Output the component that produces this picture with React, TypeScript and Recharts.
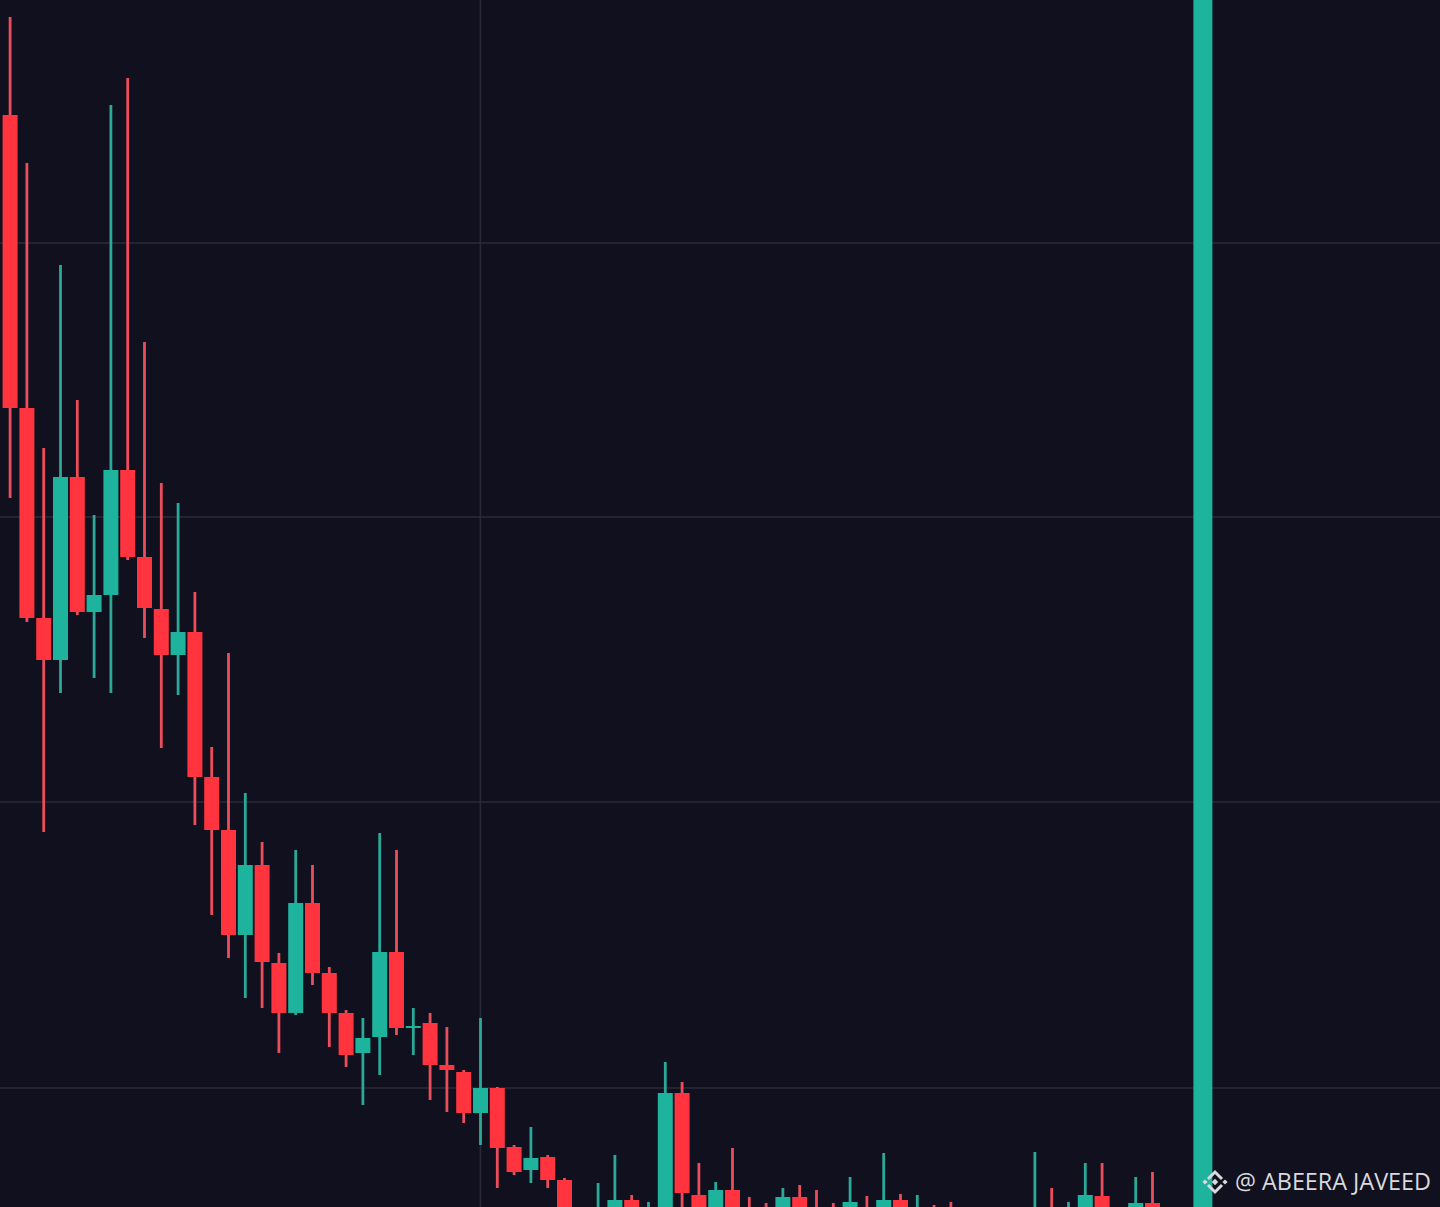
import { ComposedChart, Bar, XAxis, YAxis, ReferenceLine } from 'recharts'

// OHLC candles, oldest first
const OPEN = [
  118.5, 89.2, 68.2, 64, 82.3, 68.8, 70.5, 83, 74.3, 69.1,
  64.5, 66.8, 52.3, 47, 36.5, 43.5, 33.7, 28.7, 39.7, 32.7,
  28.7, 24.7, 26.3, 34.8, 27.2, 27.7, 23.5, 22.8, 18.7, 21.2,
  15.3, 13, 14.3, 12, 6.5, 6, 7, 10, 7, 7,
  20.7, 10.5, 7.5, 11, 9, 8.5, 7, 10.3, 9, 9,
  7, 9, 7, 10, 7, 9, 9, 8, 6, 8,
  6, 7, 9, 7, 7, 10.4, 8.2, 7, 9.7, 6.5,
  8.2, 0,
]
const HIGH = [
  128.3, 113.7, 85.2, 103.5, 90, 78.5, 119.5, 122.2, 95.8, 81.7,
  79.7, 70.8, 55.3, 64.7, 50.7, 45.8, 34.7, 45, 43.5, 33.3,
  29, 28.2, 46.7, 45, 29.2, 28.7, 27.3, 23, 28.2, 21.3,
  15.5, 17.3, 14.5, 12.2, 8, 11.7, 14.5, 10.5, 9.8, 23.8,
  21.8, 13.7, 11.8, 15.2, 10.3, 9.7, 11.2, 11.5, 11, 9.7,
  12.3, 10.4, 14.7, 10.6, 10.5, 9.5, 9.8, 8.8, 8.5, 8.6,
  8.9, 14.8, 11.2, 9.8, 13.7, 13.7, 8.8, 12.3, 12.8, 8.8,
  8.6, 145,
]
const LOW = [
  80.2, 67.8, 46.8, 60.7, 68.5, 62.2, 60.7, 74, 66.2, 55.2,
  60.5, 47.5, 38.5, 34.2, 30.2, 29.2, 24.7, 28.5, 31.5, 25.3,
  23.3, 19.5, 22.5, 26.5, 24.5, 20, 18.8, 17.7, 15.5, 11.2,
  12.5, 11.7, 11.2, 5, 2, 4, 5, 5, 5, 5,
  8, 5, 5, 5, 5, 5, 5, 5, 5, 5,
  5, 5, 5, 5, 5, 5, 5, 5, 5, 5,
  5, 5, 5, 5, 5, 5, 5, 5, 5, 5,
  5, -5,
]
const CLOSE = [
  89.2, 68.2, 64, 82.3, 68.8, 70.5, 83, 74.3, 69.2, 64.5,
  66.8, 52.3, 47, 36.5, 43.5, 33.8, 28.7, 39.7, 32.7, 28.7,
  24.5, 26.2, 34.8, 27.2, 27.4, 23.5, 23, 18.7, 21.2, 15.2,
  12.8, 14.2, 12, 7, 4, 8.8, 10, 7, 9.2, 20.7,
  10.7, 7, 11, 7.5, 7, 6.5, 10.3, 7, 7, 7,
  9.8, 7, 10, 7, 9, 7, 7, 6, 8, 6.5,
  8.2, 9, 7, 9.2, 10.5, 7, 6.5, 9.7, 7, 8.3,
  6, 140,
]

const PRICE_GRID = [21.2, 49.8, 78.3, 105.7]
const TIME_GRID = [28, 71]
const SPIKE = 71

const UP = '#1db39c'
const UP_WICK = '#2aa898'
const DOWN = '#ff343f'
const DOWN_WICK = '#ec4d5b'
const BG = '#11101e'
const GRID = '#2b2a3a'

const candles = OPEN.map((open, i) => ({
  t: i,
  open,
  high: HIGH[i],
  low: LOW[i],
  close: CLOSE[i],
}))

type CandleProps = {
  x?: number
  y?: number
  width?: number
  height?: number
  payload?: { t: number; open: number; high: number; low: number; close: number }
}

function Candle({ x = 0, y = 0, width = 0, height = 0, payload }: CandleProps) {
  if (!payload) return null
  const { open, close, high, low } = payload
  const up = close >= open
  const ratio = high > low ? height / (high - low) : 0
  const cx = x + width / 2
  const top = y + (high - Math.max(open, close)) * ratio
  const bottom = y + (high - Math.min(open, close)) * ratio
  const bodyW = payload.t === SPIKE ? 19 : width
  return (
    <g>
      <rect x={cx - 1.4} y={y} width={2.8} height={height} fill={up ? UP_WICK : DOWN_WICK} />
      <rect
        x={cx - bodyW / 2}
        y={top}
        width={bodyW}
        height={Math.max(bottom - top, 2)}
        fill={up ? UP : DOWN}
      />
    </g>
  )
}

function BinanceMark({ cx, cy }: { cx: number; cy: number }) {
  const d = (x: number, y: number, r: number) =>
    `M${cx + x},${cy + y - r} L${cx + x + r},${cy + y} L${cx + x},${cy + y + r} L${cx + x - r},${cy + y} Z`
  return (
    <g fill="#d9d9df">
      <path d={d(0, 0, 3.2)} />
      <path d={d(-10, 0, 2.6)} />
      <path d={d(10, 0, 2.6)} />
      <path
        d={`M${cx - 7},${cy - 3} L${cx},${cy - 10} L${cx + 7},${cy - 3}`}
        stroke="#d9d9df"
        strokeWidth={3}
        fill="none"
      />
      <path
        d={`M${cx - 7},${cy + 3} L${cx},${cy + 10} L${cx + 7},${cy + 3}`}
        stroke="#d9d9df"
        strokeWidth={3}
        fill="none"
      />
    </g>
  )
}

export default function App() {
  return (
    <div
      style={{
        position: 'absolute',
        left: 0,
        top: 0,
        width: 1440,
        height: 1207,
        background: BG,
        overflow: 'hidden',
      }}
    >
      <ComposedChart
        width={1440}
        height={1207}
        data={candles}
        margin={{ top: 0, right: 0, bottom: 0, left: 0 }}
      >
        <XAxis dataKey="t" type="number" domain={[-0.595, 85.12]} allowDataOverflow hide />
        <YAxis type="number" domain={[9.3, 130]} allowDataOverflow hide />
        {PRICE_GRID.map((v) => (
          <ReferenceLine key={`p${v}`} y={v} stroke={GRID} strokeWidth={1.6} zIndex={-100} />
        ))}
        {TIME_GRID.map((v) => (
          <ReferenceLine key={`t${v}`} x={v} stroke={GRID} strokeWidth={1.6} zIndex={-100} />
        ))}
        <Bar
          dataKey={(d: { low: number; high: number }) => [d.low, d.high]}
          barSize={15}
          shape={(p: CandleProps) => <Candle {...p} />}
          isAnimationActive={false}
        />
      </ComposedChart>
      <svg
        width={1440}
        height={1207}
        style={{ position: 'absolute', left: 0, top: 0, pointerEvents: 'none' }}
      >
        <BinanceMark cx={1215} cy={1182} />
        <text
          x={1235}
          y={1190}
          fontFamily="'Open Sans', sans-serif"
          fontSize={23}
          fill="#d9d9df"
          textLength={196}
          lengthAdjust="spacingAndGlyphs"
        >
          @ ABEERA JAVEED
        </text>
      </svg>
    </div>
  )
}
